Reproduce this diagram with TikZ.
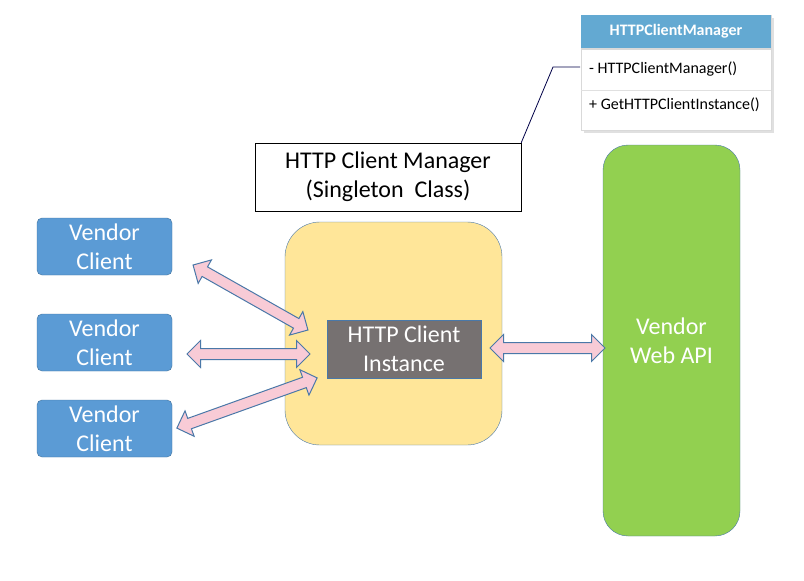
\documentclass[tikz,border=0pt]{standalone}
\usepackage{fontspec}
\setmainfont{Carlito}
\usetikzlibrary{shapes.arrows,shadows}
\definecolor{vend}{HTML}{5B9BD5}
\definecolor{vendb}{HTML}{41719C}
\definecolor{yel}{HTML}{FFE699}
\definecolor{grn}{HTML}{92D050}
\definecolor{gry}{HTML}{767171}
\definecolor{hdr}{HTML}{63A9D2}
\definecolor{pnk}{HTML}{F8CBD6}
\definecolor{abord}{HTML}{4A78A8}
\begin{document}
\begin{tikzpicture}[x=1pt,y=-1pt,
  big/.style={font=\fontsize{24}{29}\selectfont},
  vc/.style={draw=vendb,fill=vend,rounded corners=5pt,minimum width=135pt,minimum height=57pt,text=white,big,align=center,inner sep=0pt},
  dar/.style={double arrow,draw=abord,fill=pnk,line width=1pt,inner sep=5pt,double arrow head extend=8pt,double arrow head indent=0pt,minimum height=#1},
  row/.style={anchor=west,font=\fontsize{16}{18}\selectfont,inner sep=0pt}]
\useasboundingbox (0,0) rectangle (804,581);
\node[vc] (c1) at (104.5,246.5) {Vendor\\Client};
\node[vc] (c2) at (104.5,342.5) {Vendor\\Client};
\node[vc] (c3) at (104.5,428.5) {Vendor\\Client};
\node[draw=abord,fill=yel,rounded corners=35pt,minimum width=217pt,minimum height=223pt] (mgr) at (393.5,333.5) {};
\node[draw=abord,fill=gry,minimum width=154pt,minimum height=58pt,text=white,big,align=center,inner sep=0pt] (inst) at (404,349) {HTTP Client\\Instance};
\node[draw=abord,fill=grn,rounded corners=25pt,minimum width=137pt,minimum height=391pt] (api) at (671.5,340.5) {};
\node[text=white,big,align=center] (apit) at (671.5,341) {Vendor\\Web API};
\node[draw=black,fill=white,minimum width=266pt,minimum height=68pt,big,align=center,inner sep=0pt] (lbl) at (388,177) {HTTP Client Manager\\(Singleton\ \ Class)};
\node[dar=132pt,rotate=-29.5] (a1) at (250.5,297.5) {};
\node[dar=123pt] (a2) at (248.5,354) {};
\node[dar=149pt,rotate=19.7] (a3) at (247,403) {};
\node[dar=115pt] (a4) at (547.5,348) {};
% UML
\fill[black!12] (584,18) rectangle (774,133);
\node[draw=white!85!black,fill=white,minimum width=190pt,minimum height=115pt,inner sep=0pt] (uml) at (676,72.5) {};
\node[fill=hdr,minimum width=190pt,minimum height=33pt,inner sep=0pt,text=white,font=\bfseries\fontsize{16}{18}\selectfont] (uh) at (676,31) {HTTPClientManager};
\draw[black!15,line width=1.5pt] (581,49) -- (771,49);
\draw[black!12,line width=1pt] (581,90) -- (771,90);
\node[row] (r1) at (589,69) {- HTTPClientManager()};
\node[row] (r2) at (589,105) {+ GetHTTPClientInstance()};
\coordinate (k) at (553,67);
\coordinate (u) at (580,67);
\draw[draw=black!60!blue!70!black,line width=0.8pt] (lbl.north east) -- (k) -- (u);
\end{tikzpicture}
\end{document}
